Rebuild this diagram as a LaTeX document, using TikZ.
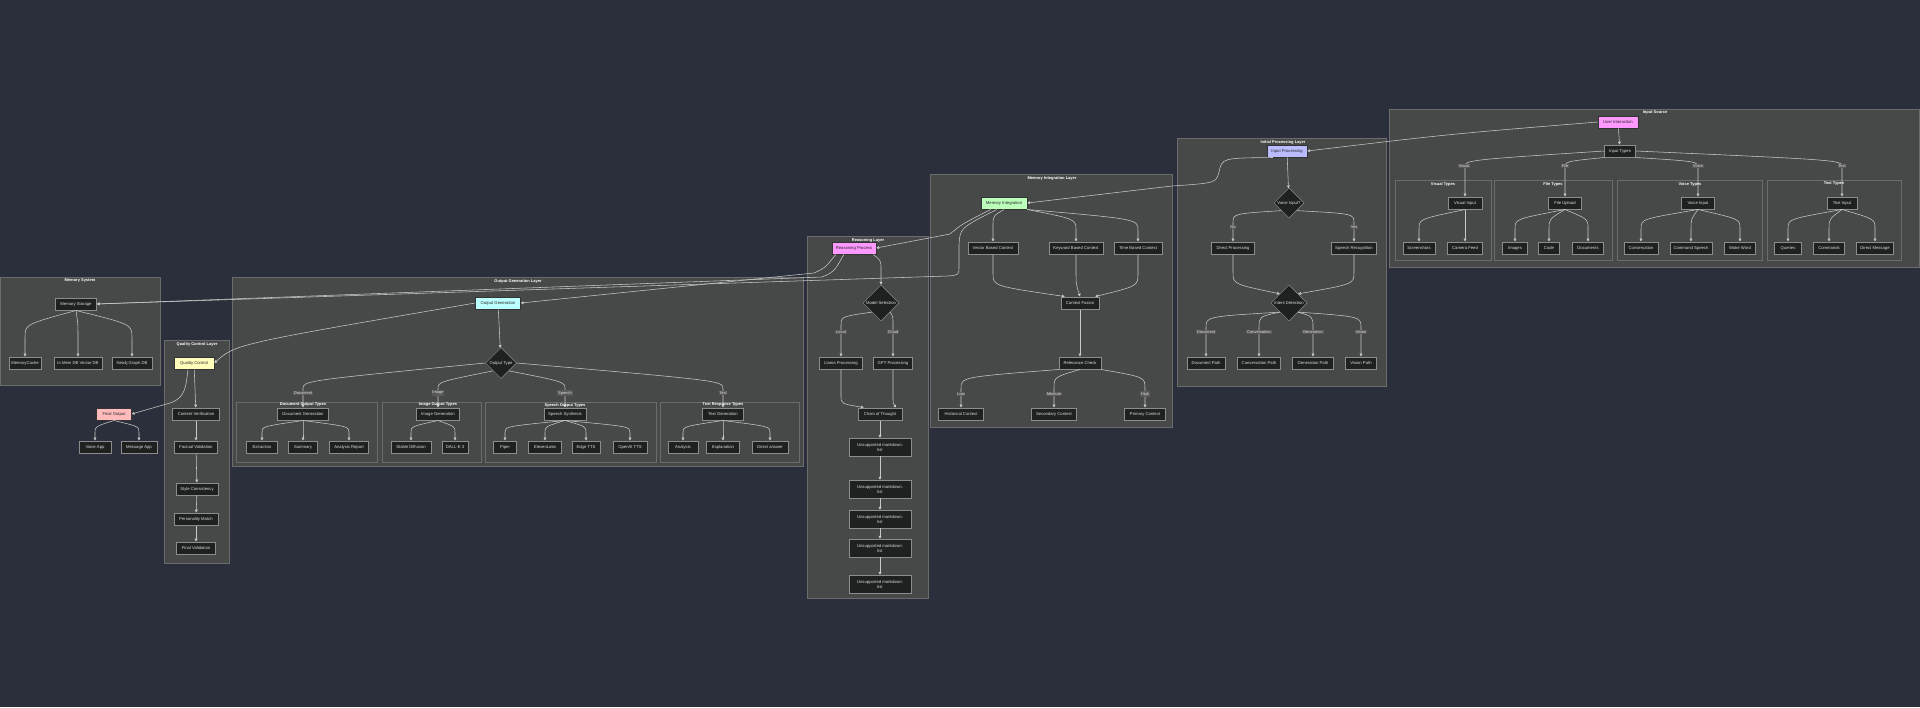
\documentclass[tikz,border=0pt]{standalone}
\usepackage{fontspec}
\setmainfont{Liberation Sans}
\usetikzlibrary{shapes.geometric,arrows.meta,calc}
\definecolor{bgc}{HTML}{2A2F3B}
\definecolor{clf}{HTML}{474949}
\definecolor{clb}{HTML}{6A6B6B}
\definecolor{ndf}{HTML}{1F2020}
\definecolor{ndb}{HTML}{8C8C8C}
\definecolor{ndt}{HTML}{DDDDDD}
\definecolor{lnc}{HTML}{C8C8C8}
\definecolor{elb}{HTML}{585858}
\definecolor{cPink}{HTML}{FF99FF}
\definecolor{cBlue}{HTML}{BBBBFF}
\definecolor{cGreen}{HTML}{BBFFBB}
\definecolor{cCyan}{HTML}{BBFFFF}
\definecolor{cYel}{HTML}{FFFFBB}
\definecolor{cRose}{HTML}{FFBBBB}
\newcommand\pce[4]{%
  \draw[conn] let \p1=(#1), \p2=(#2.north) in
    (\p1) .. controls ($(\x2,\y1)!#3!(\p2)$) .. ($(\x2,\y1)!#4!(\p2)$) -- (\p2);}
\newcommand\mrg[4]{%
  \draw[conn] let \p1=(#1.south), \p2=(#2) in
    (\p1) -- ($(\p1)!#3!(\x1,\y2)$) .. controls ($(\p1)!#4!(\x1,\y2)$) .. (\p2);}
\begin{document}
\begin{tikzpicture}[x=1pt,y=-1pt,
  nd/.style={draw=ndb, fill=ndf, line width=0.5pt, text=ndt, font=\fontsize{4.2}{5}\selectfont, inner xsep=2pt, inner ysep=0pt, minimum height=12.5pt},
  hl/.style={nd, draw=black!80, text=black!85},
  dia/.style={nd, diamond, aspect=1, inner sep=0.4pt, minimum size=30pt},
  clus/.style={draw=clb, fill=clf, line width=0.6pt},
  ctitle/.style={text=white, font=\fontsize{4}{5}\selectfont\bfseries, inner sep=0.5pt},
  elab/.style={fill=elb, text=ndt, font=\fontsize{4}{5}\selectfont, inner sep=0.8pt},
  conn/.style={draw=lnc, line width=0.55pt, -{Triangle[length=2.8pt,width=2.8pt]}},
  mw/.style={minimum width=#1pt}]
\fill[bgc] (0,0) rectangle (1920,707);
\useasboundingbox (0,0) rectangle (1920,707);
% clusters
\draw[clus] (0,277) rectangle (160,385);
\draw[clus] (164,340) rectangle (229,563);
\draw[clus] (232,277) rectangle (803,466);
\draw[clus] (807,236) rectangle (928,598);
\draw[clus] (930,174) rectangle (1172,427);
\draw[clus] (1177,138) rectangle (1386,386);
\draw[clus] (1389,109) rectangle (1919,267);
\draw[clus] (1395,180) rectangle (1491,260);
\draw[clus] (1494,180) rectangle (1612,260);
\draw[clus] (1617,180) rectangle (1762,260);
\draw[clus] (1767,180) rectangle (1901,260);
\draw[clus] (236,402) rectangle (377,462);
\draw[clus] (382,402) rectangle (481,462);
\draw[clus] (485,402) rectangle (656,462);
\draw[clus] (660,402) rectangle (799,462);
% Input Source
\node[hl, fill=cPink, mw=40] (ui) at (1618,122) {User Interaction};
\node[nd, mw=31] (it) at (1620,151) {Input Types};
\node[nd, mw=34] (vin) at (1465,203) {Visual Input};
\node[nd, mw=33] (fu) at (1565,203) {File Upload};
\node[nd, mw=33] (voi) at (1698,203) {Voice Input};
\node[nd, mw=30] (ti) at (1842,203) {Text Input};
\node[nd, mw=32] (scr) at (1419,248) {Screenshots};
\node[nd, mw=35] (cam) at (1465,248) {Camera Feed};
\node[nd, mw=25] (img) at (1515,248) {Images};
\node[nd, mw=21] (code) at (1549,248) {Code};
\node[nd, mw=31] (docs) at (1588,248) {Documents};
\node[nd, mw=34] (conv) at (1641,248) {Conversation};
\node[nd, mw=42] (cmds) at (1691,248) {Command Speech};
\node[nd, mw=31] (wake) at (1740,248) {Wake Word};
\node[nd, mw=27] (quer) at (1788,248) {Queries};
\node[nd, mw=31] (comm) at (1829,248) {Commands};
\node[nd, mw=37] (dm) at (1875,248) {Direct Message};
% Initial Processing
\node[hl, fill=cBlue, mw=40] (ip) at (1287,151) {Input Processing};
\node[dia] (vq) at (1289,203) {Voice Input?};
\node[nd, mw=43] (dp) at (1233,248) {Direct Processing};
\node[nd, mw=45] (sr) at (1354,248) {Speech Recognition};
\node[dia, minimum size=36pt] (idt) at (1289,303) {Intent Detection};
\node[nd, mw=38] (dpath) at (1206,363) {Document Path};
\node[nd, mw=43] (cpath) at (1259,363) {Conversation Path};
\node[nd, mw=41] (gpath) at (1313,363) {Generation Path};
\node[nd, mw=31] (vpath) at (1361,363) {Vision Path};
% Memory Integration
\node[hl, fill=cGreen, mw=46] (mi) at (1004,203) {Memory Integration};
\node[nd, mw=50] (vbc) at (993,248) {Vector Based Context};
\node[nd, mw=54] (kbc) at (1076,248) {Keyword Based Context};
\node[nd, mw=48] (tbc) at (1138,248) {Time Based Context};
\node[nd, mw=38] (cf) at (1080,303) {Context Fusion};
\node[nd, mw=42] (rc) at (1080,363) {Relevance Check};
\node[nd, mw=45] (hc) at (961,414) {Historical Context};
\node[nd, mw=45] (sc) at (1054,414) {Secondary Context};
\node[nd, mw=41] (pc) at (1145,414) {Primary Context};
% Reasoning
\node[hl, fill=cPink, mw=44] (rp) at (854,248) {Reasoning Process};
\node[dia, minimum size=36pt] (msel) at (881,303) {Model Selection};
\node[nd, mw=43] (llama) at (841,363) {Llama Processing};
\node[nd, mw=39] (gpt) at (893,363) {GPT Processing};
\node[nd, mw=44] (cot) at (880,414) {Chain of Thought};
\node[nd, mw=62, minimum height=18pt, align=center] (u1) at (880,447) {Unsupported markdown:\\list};
\node[nd, mw=62, minimum height=18pt, align=center] (u2) at (880,489) {Unsupported markdown:\\list};
\node[nd, mw=62, minimum height=18pt, align=center] (u3) at (880,519) {Unsupported markdown:\\list};
\node[nd, mw=62, minimum height=18pt, align=center] (u4) at (880,548) {Unsupported markdown:\\list};
\node[nd, mw=62, minimum height=18pt, align=center] (u5) at (880,584) {Unsupported markdown:\\list};
% Output Generation
\node[hl, fill=cCyan, mw=45] (og) at (498,303) {Output Generation};
\node[dia, minimum size=31pt] (ot) at (501,363) {Output Type};
\node[nd, mw=51] (docgen) at (303,414) {Document Generation};
\node[nd, mw=43] (imggen) at (438,414) {Image Generation};
\node[nd, mw=42] (spsyn) at (565,414) {Speech Synthesis};
\node[nd, mw=41] (txtgen) at (723,414) {Text Generation};
\node[nd, mw=31] (ext) at (262,447) {Extraction};
\node[nd, mw=29] (sum) at (303,447) {Summary};
\node[nd, mw=39] (ar) at (349,447) {Analysis Report};
\node[nd, mw=40] (sd) at (411,447) {Stable Diffusion};
\node[nd, mw=26] (dalle) at (455,447) {DALL-E 3};
\node[nd, mw=23] (piper) at (505,447) {Piper};
\node[nd, mw=33] (el) at (545,447) {ElevenLabs};
\node[nd, mw=28] (etts) at (586,447) {Edge TTS};
\node[nd, mw=34] (oai) at (630,447) {OpenAI TTS};
\node[nd, mw=30] (ana) at (683,447) {Analysis};
\node[nd, mw=33] (expl) at (723,447) {Explanation};
\node[nd, mw=36] (da) at (770,447) {Direct answer};
% Memory System
\node[nd, mw=41] (mst) at (76,304) {Memory Storage};
\node[nd, mw=32] (m1) at (25,363) {MemoryCache};
\node[nd, mw=48] (m2) at (78,363) {In Mem DB Vector DB};
\node[nd, mw=40] (m3) at (132,363) {Neo4j Graph DB};
% Quality Control
\node[hl, fill=cYel, mw=40] (qc) at (194,363) {Quality Control};
\node[nd, mw=47] (cv) at (196,414) {Content Verification};
\node[nd, mw=43] (fv) at (196,447) {Factual Validation};
\node[nd, mw=42] (scn) at (197,489) {Style Consistency};
\node[nd, mw=44] (pm) at (196,519) {Personality Match};
\node[nd, mw=39] (fval) at (196,548) {Final Validation};
\node[hl, fill=cRose, mw=35] (fo) at (114,414) {Final Output};
\node[nd, mw=32] (va) at (95,447) {Voice App};
\node[nd, mw=36] (ma) at (139,447) {Message App};
% edges: input source
\draw[conn] (ui) -- (it);
\pce{it.west}{vin}{0.2}{0.35}
\pce{it.south west}{fu}{0.1}{0.27}
\pce{it.south east}{voi}{0.1}{0.27}
\pce{it.east}{ti}{0.2}{0.35}
\pce{vin.south}{scr}{.3}{.6}
\pce{vin.south}{cam}{.3}{.6}
\pce{fu.south}{img}{.3}{.6}
\pce{fu.south}{code}{.3}{.6}
\pce{fu.south}{docs}{.3}{.6}
\pce{voi.south}{conv}{.3}{.6}
\pce{voi.south}{cmds}{.3}{.6}
\pce{voi.south}{wake}{.3}{.6}
\pce{ti.south}{quer}{.3}{.6}
\pce{ti.south}{comm}{.3}{.6}
\pce{ti.south}{dm}{.3}{.6}
% initial processing
\draw[conn] (ip) -- (vq);
\pce{vq.south west}{dp}{.1}{.4}
\pce{vq.south east}{sr}{.1}{.4}
\mrg{dp}{idt.north west}{.45}{.75}
\mrg{sr}{idt.north east}{.45}{.75}
\pce{idt.south west}{dpath}{.1}{.35}
\pce{idt.south west}{cpath}{.1}{.35}
\pce{idt.south east}{gpath}{.1}{.35}
\pce{idt.south east}{vpath}{.1}{.35}
% memory integration
\pce{mi.south}{vbc}{.2}{.5}
\pce{mi.south east}{kbc}{.3}{.65}
\pce{mi.south east}{tbc}{.3}{.65}
\mrg{vbc}{[xshift=4pt]cf.north west}{.45}{.75}
\mrg{kbc}{cf.north}{.4}{.7}
\mrg{tbc}{[xshift=-4pt]cf.north east}{.45}{.75}
\draw[conn] (cf) -- (rc);
\pce{rc.south west}{hc}{.2}{.5}
\pce{rc.south}{sc}{.2}{.5}
\pce{rc.south east}{pc}{.2}{.5}
% reasoning
\pce{[xshift=-3pt]rp.south east}{msel}{.2}{.5}
\pce{msel.south west}{llama}{.1}{.3}
\pce{msel.south east}{gpt}{.1}{.3}
\mrg{llama}{[xshift=6pt]cot.north west}{.7}{.9}
\mrg{gpt}{[xshift=-6pt]cot.north east}{.7}{.9}
\draw[conn] (cot) -- (u1);
\draw[conn] (u1) -- (u2);
\draw[conn] (u2) -- (u3);
\draw[conn] (u3) -- (u4);
\draw[conn] (u4) -- (u5);
% output generation
\draw[conn] (og) -- (ot);
\pce{ot.west}{docgen}{.4}{.58}
\pce{ot.south west}{imggen}{.3}{.5}
\pce{ot.south east}{spsyn}{.3}{.5}
\pce{ot.east}{txtgen}{.4}{.58}
\pce{docgen.south}{ext}{.3}{.6}
\pce{docgen.south}{sum}{.3}{.6}
\pce{docgen.south}{ar}{.3}{.6}
\pce{imggen.south}{sd}{.3}{.6}
\pce{imggen.south}{dalle}{.3}{.6}
\pce{spsyn.south}{piper}{.3}{.6}
\pce{spsyn.south}{el}{.3}{.6}
\pce{spsyn.south}{etts}{.3}{.6}
\pce{spsyn.south}{oai}{.3}{.6}
\pce{txtgen.south}{ana}{.3}{.6}
\pce{txtgen.south}{expl}{.3}{.6}
\pce{txtgen.south}{da}{.3}{.6}
% memory system
\pce{mst.south}{m1}{.3}{.6}
\pce{mst.south}{m2}{.3}{.6}
\pce{mst.south}{m3}{.3}{.6}
% quality control
\draw[conn] (qc) -- (cv);
\draw[conn] (cv) -- (fv);
\draw[conn] (fv) -- (scn);
\draw[conn] (scn) -- (pm);
\draw[conn] (pm) -- (fval);
\pce{fo.south}{va}{.3}{.6}
\pce{fo.south}{ma}{.3}{.6}
% long connectors
\draw[conn] (ui.west) .. controls (1450,134) .. (ip.east);
\draw[conn] ([xshift=6pt]ip.south west) .. controls (1222,158) .. (1219,172) .. controls (1216,183) .. (1172,186) -- (mi.east);
\draw[conn] ([xshift=10pt]mi.south west) .. controls (962,224) .. (950,234) -- (rp.east);
\draw[conn] ([xshift=16pt]mi.south west) .. controls (960,228) .. (959,245) -- (959,266) .. controls (959,275) .. (948,276) -- (mst.east);
\draw[conn] ([xshift=4pt]rp.south west) .. controls (825,268) .. (814,273) -- (og.east);
\draw[conn] ([xshift=12pt]rp.south west) .. controls (834,272) .. (822,277) -- (mst.east);
\draw[conn] (og.west) .. controls (236,344) .. (qc.east);
\draw[conn] ([xshift=-6pt]qc.south) .. controls (186,385) and (186,398) .. (170,403) -- (fo.east);
% edge labels
\node[elab] (lVis) at (1464,166) {Visual};
\node[elab] (lFile) at (1565,166) {File};
\node[elab] (lVoice) at (1698,166) {Voice};
\node[elab] (lText) at (1842,166) {Text};
\node[elab] (lNo) at (1233,227) {No};
\node[elab] (lYes) at (1354,227) {Yes};
\node[elab] (lDoc) at (1206,332) {Document};
\node[elab] (lConv) at (1259,332) {Conversation};
\node[elab] (lGen) at (1313,332) {Generation};
\node[elab] (lVisn) at (1361,332) {Vision};
\node[elab] (lLow) at (961,394) {Low};
\node[elab] (lMed) at (1054,394) {Medium};
\node[elab] (lHigh) at (1145,394) {High};
\node[elab] (lLocal) at (841,332) {Local};
\node[elab] (lCloud) at (893,332) {Cloud};
\node[elab] (loDoc) at (303,393) {Document};
\node[elab] (loImg) at (438,393) {Image};
\node[elab] (loSp) at (565,393) {Speech};
\node[elab] (loTx) at (723,393) {Text};
% cluster titles
\node[ctitle] (tIS) at (1655,113) {Input Source};
\node[ctitle] (tVT) at (1443,184) {Visual Types};
\node[ctitle] (tFT) at (1553,184) {File Types};
\node[ctitle] (tVoT) at (1690,184) {Voice Types};
\node[ctitle] (tTT) at (1834,184) {Text Types};
\node[ctitle] (tIP) at (1283,142) {Initial Processing Layer};
\node[ctitle] (tMI) at (1052,178) {Memory Integration Layer};
\node[ctitle] (tRL) at (868,240) {Reasoning Layer};
\node[ctitle] (tOG) at (518,281) {Output Generation Layer};
\node[ctitle] (tDO) at (303,405) {Document Output Types};
\node[ctitle] (tIO) at (438,405) {Image Output Types};
\node[ctitle] (tSO) at (565,405) {Speech Output Types};
\node[ctitle] (tTO) at (723,405) {Text Response Types};
\node[ctitle] (tMS) at (80,281) {Memory System};
\node[ctitle] (tQC) at (197,344) {Quality Control Layer};
\end{tikzpicture}
\end{document}
